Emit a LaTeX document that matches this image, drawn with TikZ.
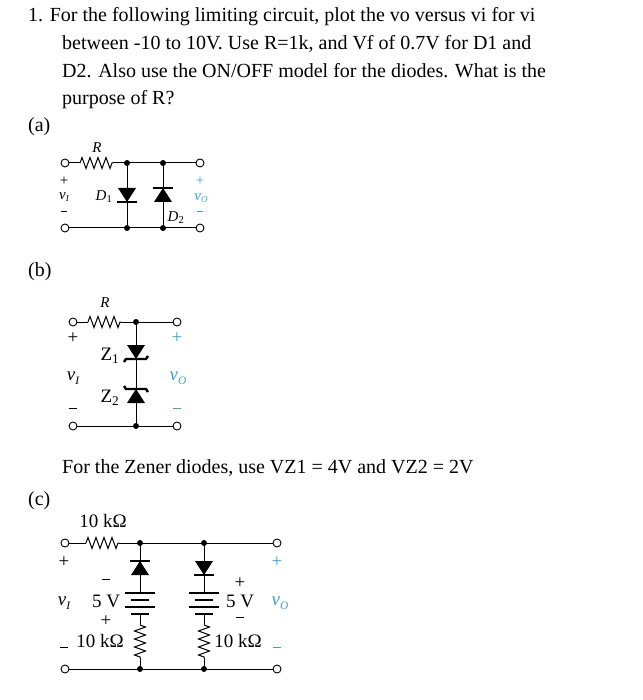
\documentclass[tikz,border=0pt]{standalone}
\usepackage{fontspec}
\setmainfont{Liberation Serif}
\usetikzlibrary{decorations.pathmorphing}
\definecolor{vblue}{RGB}{60,160,210}
\newcommand{\vsub}[1]{\textit{v}\raisebox{-0.18em}{\fontsize{0.6em}{0.6em}\selectfont\itshape #1}}
\newcommand{\mns}{\rule[0.25em]{0.45em}{0.06em}}
\tikzset{
 x=1pt,y=-1pt,
 wire/.style={line width=1pt},
 term/.style={circle,draw,line width=0.9pt,fill=white,inner sep=0pt,minimum size=8pt},
 dotn/.style={circle,fill,inner sep=0pt,minimum size=6pt},
 body/.style={font=\fontsize{20}{24}\selectfont,anchor=base west,inner sep=0pt},
 lab/.style={font=\fontsize{19}{21}\selectfont,inner sep=0pt},
 sab/.style={font=\fontsize{15}{17}\selectfont,inner sep=0pt},
 blab/.style={lab,text=vblue},
 bsab/.style={sab,text=vblue},
 res/.style={wire,decorate,decoration={zigzag,segment length=8pt,amplitude=5.5pt}},
 pics/dio/.style={code={
   \fill (-9,-7)--(9,-7)--(0,7)--cycle;
   \draw[line width=2.4pt] (-10,7)--(10,7);}},
 pics/zen/.style={code={
   \fill (-9,-7)--(9,-7)--(0,7)--cycle;
   \draw[line width=2.4pt] (-12,10)--(-10,7)--(10,7)--(12,4);}},
}
\begin{document}
\begin{tikzpicture}
\useasboundingbox (0,0) rectangle (642,700);
\node[body] (t1) at (28,22) {1. For the following limiting circuit, plot the vo versus vi for vi};
\node[body] (t2) at (62,50) {between -10 to 10V. Use R=1k, and Vf of 0.7V for D1 and};
\node[body] (t3) at (62,78) {D2. Also use the ON/OFF model for the diodes. What is the};
\node[body] (t4) at (62,105) {purpose of R?};
\node[body] (ta) at (28,132) {(a)};
\node[body] (tb) at (28,276) {(b)};
\node[body] (tz) at (62,473) {For the Zener diodes, use VZ1 = 4V and VZ2 = 2V};
\node[body] (tc) at (28,505) {(c)};

% ---------- (a)
\coordinate (aL) at (65,163); \coordinate (aR1) at (80,163); \coordinate (aR2) at (113,163);
\coordinate (a1) at (127,163); \coordinate (a2) at (163,163); \coordinate (aT) at (200,163);
\coordinate (ab0) at (65,228); \coordinate (ab1) at (127,228); \coordinate (ab2) at (163,228); \coordinate (abT) at (200,228);
\draw[wire] (aL)--(aR1); \draw[res] (aR1)--(aR2); \draw[wire] (aR2)--(aT);
\draw[wire] (ab0)--(abT);
\draw[wire] (a1)--(ab1); \draw[wire] (a2)--(ab2);
\pic at (127,195) {dio}; \pic[yscale=-1] at (163,195) {dio};
\foreach \p in {a1,a2,ab1,ab2} \node[dotn] at (\p) {};
\foreach \p in {aL,aT,ab0,abT} \node[term] at (\p) {};
\node[sab] (aRl) at (97,148) {\itshape R};
\node[sab] at (64,181) {+}; \node[sab] at (64,197) {\vsub{I}}; \node[sab] at (64,213) {\mns};
\node[sab] at (104,197) {\itshape D\textsubscript{\upshape 1}};
\node[sab] at (176,218) {\itshape D\textsubscript{\upshape 2}};
\node[bsab] at (200,181) {+}; \node[bsab] at (201,198) {\vsub{O}}; \node[bsab] at (200,213) {\mns};

% ---------- (b)
\coordinate (bL) at (73,322); \coordinate (bR1) at (88,322); \coordinate (bR2) at (121,322);
\coordinate (b1) at (136,322); \coordinate (bT) at (177,322);
\coordinate (bb0) at (73,426); \coordinate (bb1) at (136,426); \coordinate (bbT) at (177,426);
\draw[wire] (bL)--(bR1); \draw[res] (bR1)--(bR2); \draw[wire] (bR2)--(bT);
\draw[wire] (bb0)--(bbT); \draw[wire] (b1)--(bb1);
\pic at (136,352) {zen}; \pic[yscale=-1] at (136,396) {zen};
\foreach \p in {b1,bb1} \node[dotn] at (\p) {};
\foreach \p in {bL,bT,bb0,bbT} \node[term] at (\p) {};
\node[sab] at (105,303) {\itshape R};
\node[lab] at (73,338) {+}; \node[lab] at (73,378) {\vsub{I}}; \node[lab] at (73,411) {\mns};
\node[lab] at (110,356) {Z\textsubscript{1}}; \node[lab] at (110,398) {Z\textsubscript{2}};
\node[blab] at (177,338) {+}; \node[blab] at (178,378) {\vsub{O}}; \node[blab] at (177,411) {\mns};

% ---------- (c)
\coordinate (cL) at (65,543); \coordinate (cR1) at (86,543); \coordinate (cR2) at (119,543);
\coordinate (c1) at (140,543); \coordinate (c2) at (204,543); \coordinate (cT) at (277,543);
\coordinate (cb0) at (65,669); \coordinate (cb1) at (140,669); \coordinate (cb2) at (204,669); \coordinate (cbT) at (277,669);
\draw[wire] (cL)--(cR1); \draw[res] (cR1)--(cR2); \draw[wire] (cR2)--(cT);
\draw[wire] (cb0)--(cbT);
\foreach \x in {140,204}{
  \draw[wire] (\x,543)--(\x,593);
  \draw[line width=1.9pt] (\x-15,593)--(\x+15,593);
  \draw[line width=1.9pt] (\x-9,600)--(\x+9,600);
  \draw[line width=1.9pt] (\x-15,607)--(\x+15,607);
  \draw[line width=1.9pt] (\x-9,614)--(\x+9,614);
  \draw[wire] (\x,614)--(\x,625);
  \draw[res] (\x,625)--(\x,658);
  \draw[wire] (\x,658)--(\x,669);
}
\pic[yscale=-1] at (140,568) {dio}; \pic at (204,568) {dio};
\foreach \p in {c1,c2,cb1,cb2} \node[dotn] at (\p) {};
\foreach \p in {cL,cT,cb0,cbT} \node[term] at (\p) {};
\node[lab] at (103,521) {10 kΩ};
\node[lab] at (64,562) {+}; \node[lab] at (64,603) {\vsub{I}}; \node[lab] at (64,650) {\mns};
\node[lab] at (106,582) {\mns}; \node[lab] at (106,601) {5 V}; \node[lab] at (106,621) {+}; \node[lab] at (100,641) {10 kΩ};
\node[lab] at (240,583) {+}; \node[lab] at (240,601) {5 V}; \node[lab] at (240,620) {\mns}; \node[lab] at (238,641) {10 kΩ};
\node[blab] at (277,562) {+}; \node[blab] at (280,603) {\vsub{O}}; \node[blab] at (277,650) {\mns};
\end{tikzpicture}
\end{document}
